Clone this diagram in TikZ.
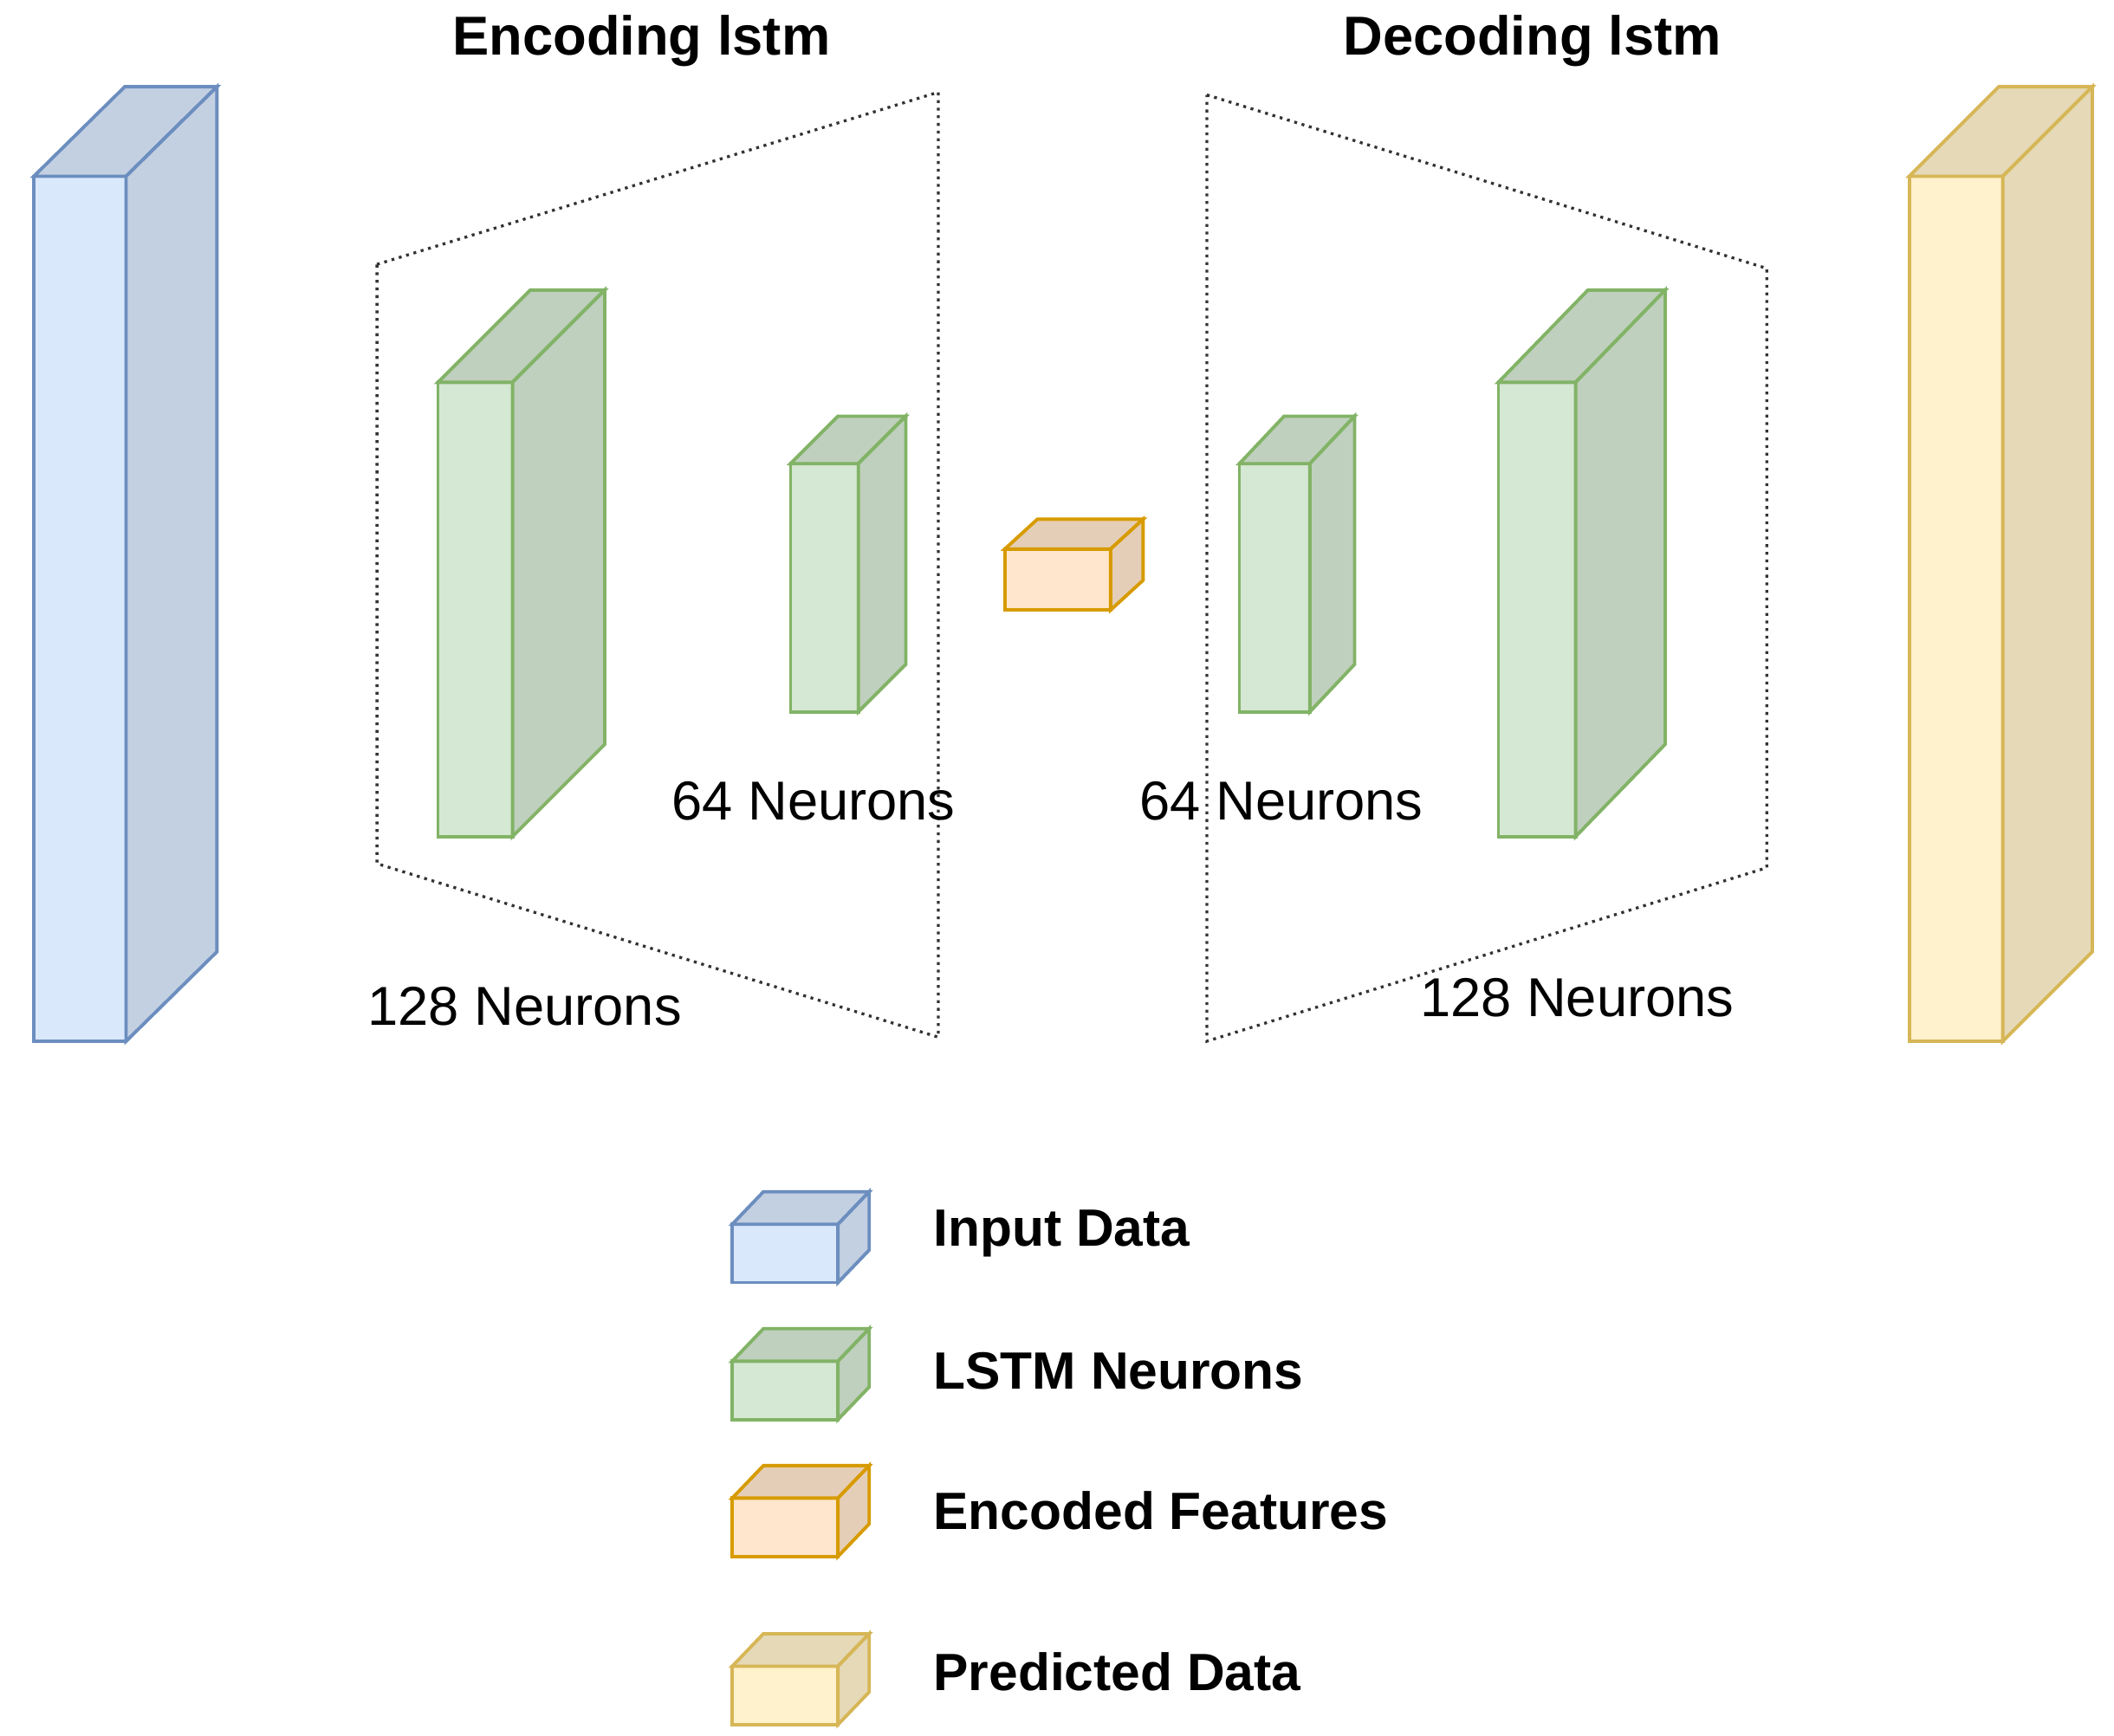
\documentclass[tikz,border=0pt]{standalone}
\usepackage{fontspec}
\setmainfont{Liberation Sans}
\usepackage{xcolor}
\usepackage{tikz}

\definecolor{blueF}{HTML}{DAE8FC}\definecolor{blueS}{HTML}{C3D0E2}\definecolor{blueL}{HTML}{6C8EBF}
\definecolor{greenF}{HTML}{D5E8D4}\definecolor{greenS}{HTML}{BFD0BE}\definecolor{greenL}{HTML}{82B366}
\definecolor{orangeF}{HTML}{FFE6CC}\definecolor{orangeS}{HTML}{E5CEB7}\definecolor{orangeL}{HTML}{D79B00}
\definecolor{yellowF}{HTML}{FFF2CC}\definecolor{yellowS}{HTML}{E5D9B7}\definecolor{yellowL}{HTML}{D6B656}

% #1 colour prefix, #2 x, #3 top y, #4 width, #5 height, #6 depth x, #7 depth y
\newcommand{\cuboid}[7]{%
  \draw[line width=0.7pt, draw=#1L, fill=#1F] (#2,#3) rectangle ++(#4,#5);
  \draw[line width=0.7pt, draw=#1L, fill=#1S] (#2,#3) -- ++(#6,-#7) -- ++(#4,0) -- ++(-#6,#7) -- cycle;
  \draw[line width=0.7pt, draw=#1L, fill=#1S] ({#2+#4},#3) -- ++(#6,-#7) -- ++(0,#5) -- ++(-#6,#7) -- cycle;
}

\begin{document}
\begin{tikzpicture}[x=0.01cm, y=-0.01cm,
    lbl/.style={font=\fontsize{11.5}{14}\selectfont},
    head/.style={font=\fontsize{11.5}{14}\selectfont\bfseries},
    leg/.style={font=\fontsize{11}{14}\selectfont\bfseries, anchor=west},
    frame/.style={densely dotted, line width=0.6pt, draw=black!80}]
        \useasboundingbox (0,0) rectangle (1559,1280);

        % encoder / decoder frames
        \draw[frame] (278,195) -- (692,68) -- (692,765) -- (278,637) -- cycle;
        \draw[frame] (890,70) -- (1303,198) -- (1303,640) -- (890,768) -- cycle;

        % blocks
        \cuboid{blue}{25}{130}{68}{638}{67}{66}
        \cuboid{green}{323}{282}{55}{335}{68}{68}
        \cuboid{green}{583}{342}{50}{183}{35}{35}
        \cuboid{orange}{741}{405}{78}{45}{24}{22}
        \cuboid{green}{914}{342}{52}{183}{33}{35}
        \cuboid{green}{1105}{282}{57}{335}{66}{68}
        \cuboid{yellow}{1408}{130}{69}{638}{66}{66}

        % legend
        \cuboid{blue}{540}{903}{78}{43}{23}{24}
        \cuboid{green}{540}{1004}{78}{43}{23}{24}
        \cuboid{orange}{540}{1105}{78}{43}{23}{24}
        \cuboid{yellow}{540}{1229}{78}{43}{23}{24}

        \node[head] (enc) at (473,30) {Encoding lstm};
        \node[head] (dec) at (1130,30) {Decoding lstm};
        \node[lbl] (e64) at (600,591) {64 Neurons};
        \node[lbl] (d64) at (945,591) {64 Neurons};
        \node[lbl] (e128) at (387,742) {128 Neurons};
        \node[lbl] (d128) at (1163,736) {128 Neurons};

        \node[leg] (lin) at (676,910) {Input Data};
        \node[leg] (llstm) at (676,1011) {LSTM Neurons};
        \node[leg] (lenc) at (676,1114) {Encoded Features};
        \node[leg] (lpred) at (676,1233) {Predicted Data};
\end{tikzpicture}
\end{document}
